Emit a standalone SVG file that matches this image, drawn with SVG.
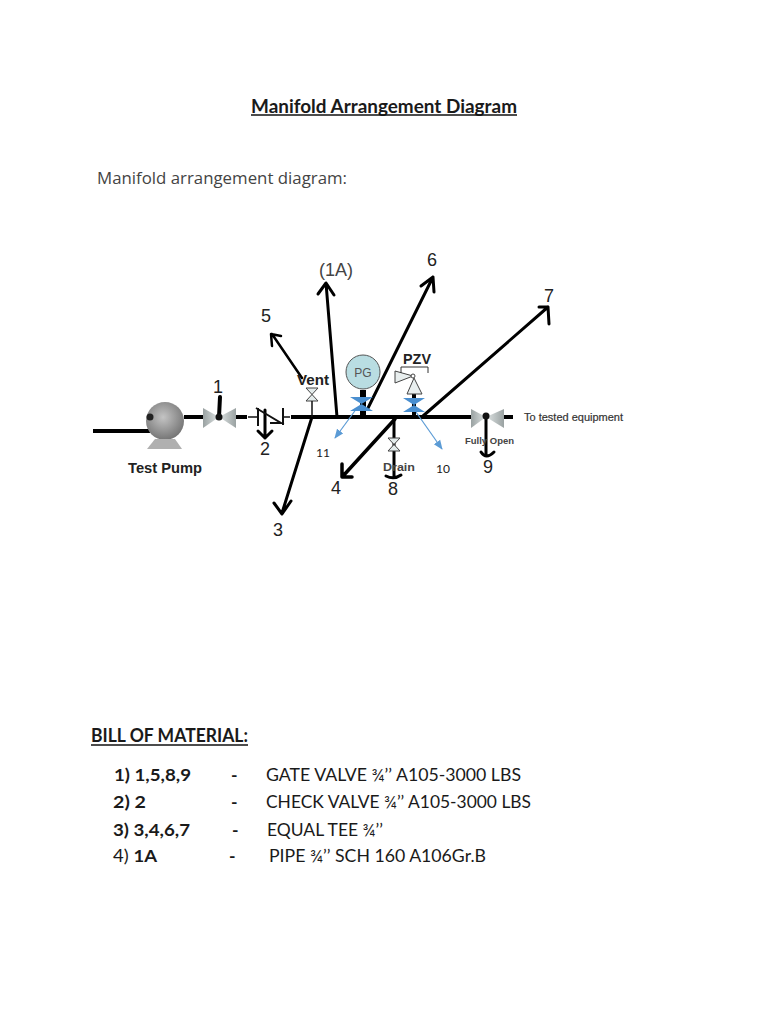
<svg xmlns="http://www.w3.org/2000/svg" width="768" height="1024" viewBox="0 0 768 1024">
<style>
.doc{font-family:"Lato","Carlito","Noto Sans",sans-serif;fill:#1a1a1a}
.t{font-size:17.5px}
.b{font-weight:700}
.n{font-family:"Liberation Sans",Arial,sans-serif;font-size:18px;fill:#222;text-anchor:middle}
.l{font-family:"Liberation Sans",Arial,sans-serif;font-weight:700}
.pipe{stroke:#000;stroke-width:4;fill:none}
.thin{stroke:#111;stroke-width:1.5;fill:none}
.arr{stroke:#000;stroke-width:3;fill:none;stroke-linecap:round;stroke-linejoin:round}
.blue{stroke:#5b9bd5;stroke-width:1.2;fill:none;marker-end:url(#bh)}
.sv{fill:#e4ecec;stroke:#444;stroke-width:1}
.bv{fill:#4a8fd0}
</style>
<defs>
<marker id="bh" viewBox="0 0 10 10" refX="9" refY="5" markerWidth="8" markerHeight="8" orient="auto"><path d="M0 1 L10 5 L0 9 Z" fill="#5b9bd5"/></marker>
<radialGradient id="pg" cx=".45" cy=".4" r=".65"><stop offset="0" stop-color="#c4c4c4"/><stop offset="1" stop-color="#6f6f6f"/></radialGradient>
<linearGradient id="gl" x1="0" x2="1"><stop offset="0" stop-color="#9aa2a2"/><stop offset="1" stop-color="#dfe4e4"/></linearGradient>
<linearGradient id="gr" x1="0" x2="1"><stop offset="0" stop-color="#dfe4e4"/><stop offset="1" stop-color="#9aa2a2"/></linearGradient>
</defs>
<g id="title">
<text class="doc b" x="251" y="112.500" font-size="18.500" textLength="266" lengthAdjust="spacingAndGlyphs">Manifold Arrangement Diagram</text>
<line x1="251" y1="115" x2="517" y2="115" stroke="#111" stroke-width="1.300"/>
</g>
<text id="subtitle" x="97" y="184" font-family="Open Sans,Noto Sans,sans-serif" font-size="17" fill="#444" textLength="250" lengthAdjust="spacingAndGlyphs">Manifold arrangement diagram:</text>
<g id="connectors">
<path class="pipe" d="M93 431H150M184 417H204M236 417H247M291 417H471M504 417H513"/>
<path class="thin" d="M248 417H258M283 417H290"/>
<path class="arr" d="M312 417L282 513M274 503L282 514L291 501"/>
<path class="arr" style="stroke-width:2.500px" d="M302 378L272 334M272 346L271 334L281 336"/>
<path class="arr" d="M337 417L326 283M318 294L326 283L334 295"/>
<path class="arr" d="M368 408L433 277M421 286L433 277L434 292"/>
<path class="arr" d="M423 416L548 307M539 307H548L549 324"/>
<path class="arr" style="stroke-width:3.500px" d="M395 419L343 476M342 464V477H352"/>
<path class="arr" style="stroke-width:4px" d="M219 417L220 397"/>
<path class="arr" d="M265 410V438M258 431L265 438L272 431"/>
<path class="arr" d="M394 417V477M386 476Q394 480 401 475"/>
<path class="arr" d="M486 417V455M481 452Q486 460 494 452"/>
<path class="blue" d="M357 408L335 438"/>
<path class="blue" d="M416 412L442 449"/>
</g>
<g id="pump">
<circle cx="165" cy="421" r="19" fill="url(#pg)"/>
<circle cx="150" cy="417" r="3.500" fill="#222"/>
<path d="M147 449L155 439H175L182 449Z" fill="#b0b0b0"/>
<text class="l" x="128" y="473" font-size="15" fill="#222" textLength="74" lengthAdjust="spacingAndGlyphs">Test Pump</text>
</g>
<g id="valve-1">
<path d="M203 408L219 417L203 428Z" fill="url(#gl)"/><path d="M236 408L219 417L236 428Z" fill="url(#gr)"/>
<circle cx="219" cy="417" r="3.500" fill="#111"/>
<text class="n" x="218" y="393">1</text>
</g>
<g id="check-valve-2">
<path class="thin" style="stroke-width:2px" d="M256 408L281 423H270M258 408V426M283 408V425"/>
<text class="n" x="265" y="455">2</text>
</g>
<g id="vent-valve">
<path class="sv" d="M306 388H318L306 401H318Z"/>
<line x1="312" y1="401" x2="312" y2="417" stroke="#111" stroke-width="1.500"/>
<text class="l" x="297" y="385" font-size="14" fill="#222" textLength="32" lengthAdjust="spacingAndGlyphs">Vent</text>
</g>
<g id="pressure-gauge">
<rect x="360" y="390" width="6" height="27"/>
<circle cx="363" cy="372" r="17" fill="#b9dde2" stroke="#555"/>
<text x="363" y="377" text-anchor="middle" font-family="Liberation Sans,sans-serif" font-size="12" fill="#555">PG</text>
<path class="bv" d="M350 397H373L350 411H373Z"/>
</g>
<g id="pzv">
<rect x="412" y="392" width="4" height="25"/>
<path class="bv" d="M403 398H425L403 412H425Z"/>
<path d="M407 394H422L414 378Z" fill="#e8eeee" stroke="#444"/>
<path d="M395 371V383L413 376Z" fill="#e8eeee" stroke="#444"/>
<circle cx="413" cy="376" r="2" fill="#fff" stroke="#444"/>
<path d="M401 373V367H428V373" fill="none" stroke="#333"/>
<text class="l" x="403" y="364" font-size="15" fill="#222" textLength="28" lengthAdjust="spacingAndGlyphs">PZV</text>
</g>
<g id="drain-valve">
<path class="sv" d="M388 438H400L388 451H400Z"/>
<text class="l" x="383" y="471" font-size="11.500" fill="#444" textLength="32" lengthAdjust="spacingAndGlyphs">Drain</text>
</g>
<g id="valve-9">
<path d="M471 409L486 417L471 428Z" fill="url(#gl)"/><path d="M504 409L486 417L504 428Z" fill="url(#gr)"/>
<circle cx="486" cy="416" r="3.500" fill="#111"/>
<text class="l" x="465" y="444" font-size="9.500" fill="#444" textLength="49" lengthAdjust="spacingAndGlyphs">Fully Open</text>
</g>
<text id="to-tested" x="524" y="421" font-family="Liberation Sans,sans-serif" font-size="11" textLength="99" lengthAdjust="spacingAndGlyphs" fill="#333" stroke="#333" stroke-width=".2">To tested equipment</text>
<g id="labels">
<text class="n" x="278" y="536">3</text>
<text class="n" x="336" y="494">4</text>
<text class="n" x="266" y="322">5</text>
<text class="n" x="432" y="266">6</text>
<text class="n" x="549" y="302">7</text>
<text class="n" x="393" y="495">8</text>
<text class="n" x="488" y="473">9</text>
<text class="n" x="336" y="276" style="fill:#444">(1A)</text>
<text class="doc" x="316" y="457" font-size="12">11</text>
<text class="doc" x="436" y="473" font-size="12">10</text>
</g>
<g id="bill-of-material">
<text class="doc b" x="91" y="742" font-size="18.500" textLength="157" lengthAdjust="spacingAndGlyphs">BILL OF MATERIAL:</text>
<line x1="91" y1="745" x2="248" y2="745" stroke="#111" stroke-width="1.300"/>
<text class="doc t b" x="114" y="781" textLength="77" lengthAdjust="spacingAndGlyphs">1) 1,5,8,9</text><text class="doc t b" x="231" y="781">-</text><text class="doc t" x="266" y="781" textLength="255" lengthAdjust="spacingAndGlyphs">GATE VALVE ¾’’ A105-3000 LBS</text>
<text class="doc t b" x="113" y="808" textLength="33" lengthAdjust="spacingAndGlyphs">2) 2</text><text class="doc t b" x="231" y="808">-</text><text class="doc t" x="266" y="808" textLength="265" lengthAdjust="spacingAndGlyphs">CHECK VALVE ¾’’ A105-3000 LBS</text>
<text class="doc t b" x="113" y="836" textLength="77" lengthAdjust="spacingAndGlyphs">3) 3,4,6,7</text><text class="doc t b" x="232" y="836">-</text><text class="doc t" x="267" y="836" textLength="116" lengthAdjust="spacingAndGlyphs">EQUAL TEE ¾’’</text>
<text class="doc t" x="113" y="862" textLength="44" lengthAdjust="spacingAndGlyphs">4) <tspan class="b">1A</tspan></text><text class="doc t b" x="229" y="862">-</text><text class="doc t" x="269" y="862" textLength="217" lengthAdjust="spacingAndGlyphs">PIPE ¾’’ SCH 160 A106Gr.B</text>
</g>
</svg>
